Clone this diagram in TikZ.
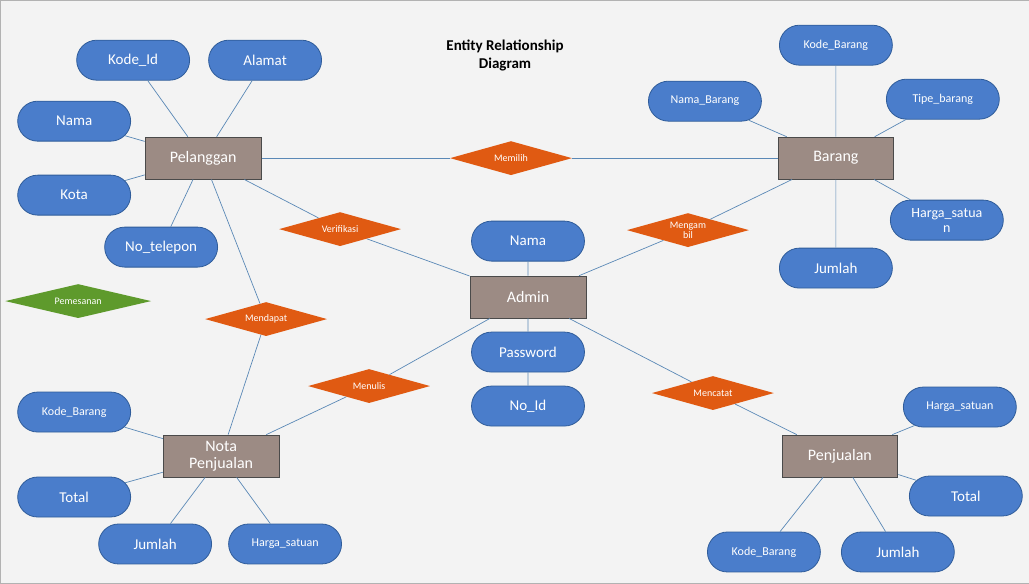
\documentclass[tikz,border=0pt]{standalone}
\usepackage{fontspec}
\setmainfont{Carlito}
\usetikzlibrary{shapes.geometric}
\definecolor{bg}{HTML}{F3F3F3}
\definecolor{ovf}{HTML}{4A7DCB}
\definecolor{ovd}{HTML}{2F5C9A}
\definecolor{ent}{HTML}{9C8B84}
\definecolor{entd}{HTML}{4A4A4A}
\definecolor{dia}{HTML}{E05A12}
\definecolor{grn}{HTML}{5E9A2C}
\definecolor{ln}{HTML}{5A88B6}
\begin{document}
\begin{tikzpicture}[x=1pt,y=-1pt,
 att/.style={rounded rectangle,fill=ovf,draw=ovd,line width=0.8pt,minimum width=115pt,minimum height=40pt,text=white,font=\fontsize{15}{16}\selectfont,align=center,inner sep=1pt},
 satt/.style={att,font=\fontsize{12}{13}\selectfont},
 ent/.style={rectangle,fill=ent,draw=entd,line width=0.8pt,minimum width=116pt,minimum height=42pt,text=white,font=\fontsize{16}{17}\selectfont,align=center,inner sep=1pt},
 rel/.style={diamond,aspect=3.5,fill=dia,minimum width=122pt,minimum height=34pt,inner sep=0pt,text=white,font=\fontsize{10}{10}\selectfont,align=center},
 con/.style={draw=ln,line width=0.7pt}]
\path[use as bounding box,fill=bg,draw=gray!60] (0,0) rectangle (1029,583);
\usetikzlibrary{shapes.misc}
\node[font=\bfseries\fontsize{15}{18}\selectfont,align=center] (title) at (505,55) {Entity Relationship\\Diagram};
% entities
\node[ent] (pel) at (203,158) {Pelanggan};
\node[ent] (bar) at (836,158) {Barang};
\node[ent] (adm) at (528,297) {Admin};
\node[ent] (nota) at (221,456) {Nota\\Penjualan};
\node[ent] (penj) at (840,456) {Penjualan};
% relationships
\node[rel] (memilih) at (511,158) {Memilih};
\node[rel] (verif) at (340,229) {Verifikasi};
\node[rel] (meng) at (688,230) {Mengam\\bil};
\node[rel] (mendapat) at (266,319) {Mendapat};
\node[rel] (menulis) at (369,386) {Menulis};
\node[rel] (mencatat) at (713,393) {Mencatat};
\node[rel,fill=grn,minimum width=146pt] (pemesanan) at (78,301) {Pemesanan};
% connectors (drawn first behind)
\begin{scope}[on background layer/.style={}]
\end{scope}
\draw[con] (pel) -- (memilih) (memilih) -- (bar);
\draw[con] (pel) -- (verif) (verif) -- (adm);
\draw[con] (bar) -- (meng) (meng) -- (adm);
\draw[con] (pel) -- (mendapat) (mendapat) -- (nota);
\draw[con] (nota) -- (menulis) (menulis) -- (adm);
\draw[con] (adm) -- (mencatat) (mencatat) -- (penj);
% attributes
\node[att] (kid) at (133,60) {Kode\_Id};
\node[att] (alamat) at (265,60) {Alamat};
\node[att] (nama1) at (74,121) {Nama};
\node[att] (kota) at (74,195) {Kota};
\node[att] (notel) at (161,247) {No\_telepon};
\draw[con] (kid) -- (pel) (alamat) -- (pel) (nama1) -- (pel) (kota) -- (pel) (notel) -- (pel);
\node[satt] (kb1) at (836,45) {Kode\_Barang};
\node[satt] (nb) at (705,101) {Nama\_Barang};
\node[satt] (tb) at (943,99) {Tipe\_barang};
\node[att,font=\fontsize{14}{15}\selectfont] (hs1) at (947,220) {Harga\_satua\\n};
\node[att] (jml1) at (836,268) {Jumlah};
\draw[con] (kb1) -- (bar) (nb) -- (bar) (tb) -- (bar) (hs1) -- (bar) (jml1) -- (bar);
\node[att] (nama2) at (528,241) {Nama};
\node[att] (pass) at (528,352) {Password};
\node[att] (noid) at (528,406) {No\_Id};
\draw[con] (nama2) -- (adm) (pass) -- (adm) (pass) -- (noid);
\node[satt] (kb2) at (74,412) {Kode\_Barang};
\node[att] (tot1) at (74,497) {Total};
\node[att] (jml2) at (155,544) {Jumlah};
\node[satt] (hs2) at (285,544) {Harga\_satuan};
\draw[con] (kb2) -- (nota) (tot1) -- (nota) (jml2) -- (nota) (hs2) -- (nota);
\node[satt] (hs3) at (960,407) {Harga\_satuan};
\node[att] (tot2) at (966,496) {Total};
\node[satt] (kb3) at (764,552) {Kode\_Barang};
\node[att] (jml3) at (898,552) {Jumlah};
\draw[con] (hs3) -- (penj) (tot2) -- (penj) (kb3) -- (penj) (jml3) -- (penj);
\end{tikzpicture}
\end{document}
